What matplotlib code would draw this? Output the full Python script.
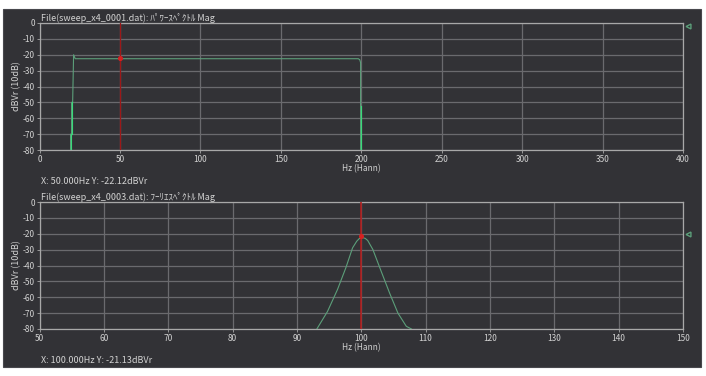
import matplotlib.pyplot as plt
from matplotlib.patches import Rectangle
from matplotlib.transforms import blended_transform_factory

# top: swept sine power spectrum (Hz, dBVr)
sweep_hz = [19.3, 19.3, 19.9, 19.9, 20.6, 21.2, 22.2, 198.2, 199.1, 199.6, 199.6]
sweep_db = [-80, -70, -70, -50, -50, -20, -22.5, -22.5, -23.2, -25.0, -80]
# brighter low-level edges of the sweep
edge_lo_hz = [19.3, 19.3, 19.9, 19.9]
edge_lo_db = [-80, -70, -70, -50]
edge_hi_hz = [199.6, 199.6]
edge_hi_db = [-52, -80]

# bottom: Fourier spectrum around 100 Hz
peak_hz = [93.1, 94.75, 96.3, 97.6, 98.65, 99.3, 99.7, 100.2, 100.6, 101.0, 101.8,
           103.1, 104.4, 105.7, 107.0, 107.8]
peak_db = [-80, -69, -55.2, -41.5, -28.9, -24.7, -23.0, -22.4, -22.9, -24.2, -29.9,
           -43.7, -57.3, -70, -78.3, -80]

cursor_top = (50, -22.12)
cursor_bot = (100, -21.13)

titles = ['File(sweep_x4_0001.dat): ﾊﾟﾜｰｽﾍﾟｸﾄﾙ Mag',
          'File(sweep_x4_0003.dat): ﾌｰﾘｴｽﾍﾟｸﾄﾙ Mag']
readouts = ['X: 50.000Hz Y: -22.12dBVr', 'X: 100.000Hz Y: -21.13dBVr']

plt.rcParams['font.family'] = ['Noto Sans CJK JP', 'DejaVu Sans']
plt.rcParams['axes.unicode_minus'] = False

bg = '#323236'
txt = '#d2d2d2'
grid_c = '#6a6a6e'
spine_c = '#a8a8a8'
line_c = '#5c9f7a'
bright_c = '#39d97a'
red_c = '#9c1818'

fig = plt.figure(figsize=(7.06, 3.76), dpi=100)
fig.patch.set_facecolor('white')
fig.patches.append(Rectangle((3 / 706, 1 - 367 / 376), 698 / 706, 358 / 376,
                             transform=fig.transFigure, facecolor=bg,
                             edgecolor='#48484d', lw=0.8, zorder=-10))

ax1 = fig.add_axes([39.5 / 706, 1 - 150 / 376, 643.5 / 706, 127 / 376])
ax2 = fig.add_axes([39.5 / 706, 1 - 329 / 376, 643.5 / 706, 127 / 376])

for ax, xlim, xticks in [(ax1, (0, 400), range(0, 401, 50)),
                         (ax2, (50, 150), range(50, 151, 10))]:
    ax.set_facecolor(bg)
    ax.set_xlim(*xlim)
    ax.set_ylim(-80, 0)
    ax.set_xticks(list(xticks))
    ax.set_yticks(range(-80, 1, 10))
    ax.grid(True, color=grid_c, lw=0.9)
    ax.set_axisbelow(True)
    ax.tick_params(colors=spine_c, labelcolor=txt, labelsize=6, length=2, width=0.6, pad=1.5)
    for s in ax.spines.values():
        s.set_color(spine_c)
        s.set_linewidth(0.9)
    ax.set_xlabel('Hz (Hann)', color=txt, fontsize=6, labelpad=0)
    ax.set_ylabel('dBVr (10dB)', color=txt, fontsize=6.5, labelpad=1)

# top panel
ax1.plot(sweep_hz, sweep_db, color=line_c, lw=0.8, zorder=3)
ax1.plot(edge_lo_hz, edge_lo_db, color=bright_c, lw=0.8, zorder=4)
ax1.plot(edge_hi_hz, edge_hi_db, color=bright_c, lw=0.8, zorder=4)
ax1.axvline(cursor_top[0], color=red_c, lw=0.9, zorder=5)
ax1.plot(*cursor_top, 'o', color='#d82020', ms=2.6, zorder=6)

# bottom panel
ax2.plot(peak_hz, peak_db, color=line_c, lw=0.8, zorder=3)
ax2.axvline(cursor_bot[0], color='#b81818', lw=1.1, zorder=5)
ax2.plot(*cursor_bot, 'o', color='#d82020', ms=2.6, zorder=6)

# reference level markers on the right edge
for ax, lvl in [(ax1, -2), (ax2, -20)]:
    tr = blended_transform_factory(ax.transAxes, ax.transData)
    ax.plot(1.008, lvl, marker='<', ms=3.5, mfc='none', mec=line_c,
            transform=tr, clip_on=False)

for ax, title, readout in [(ax1, titles[0], readouts[0]), (ax2, titles[1], readouts[1])]:
    ax.text(0.003, 1.0, title, transform=ax.transAxes, color=txt,
            fontsize=6.5, ha='left', va='bottom')
    ax.text(0.003, -0.25, readout, transform=ax.transAxes, color=txt,
            fontsize=6.5, ha='left', va='center')

fig.savefig('out.png', dpi=100, facecolor='white')
